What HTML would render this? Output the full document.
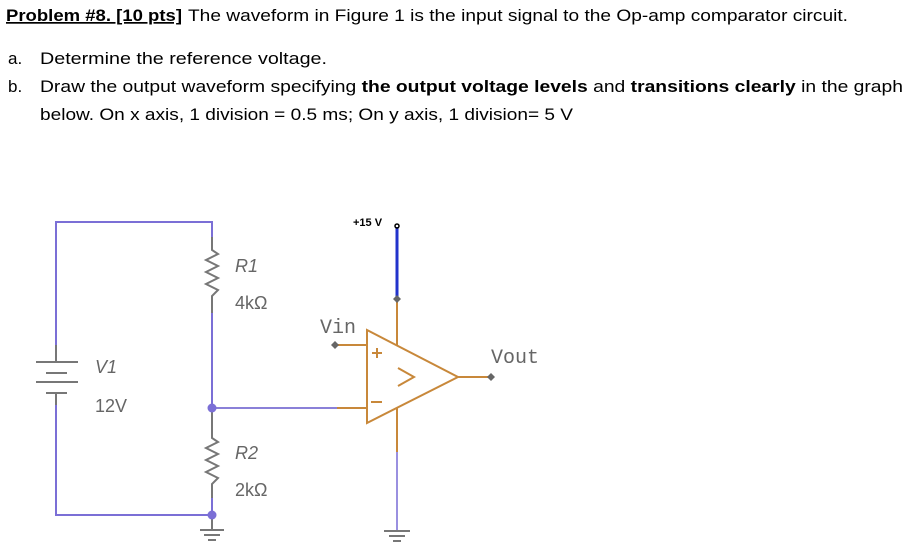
<!DOCTYPE html>
<html><head><meta charset="utf-8"><style>
html,body{margin:0;padding:0;background:#fff;}
svg{display:block;}
text{font-family:"Liberation Sans",sans-serif;}
</style></head><body>
<svg width="906" height="548" viewBox="0 0 906 548" xmlns="http://www.w3.org/2000/svg">
<g font-size="17" fill="#000">
<text x="6" y="21" textLength="176" lengthAdjust="spacingAndGlyphs" font-weight="bold" text-decoration="underline">Problem #8. [10 pts]</text>
<text x="188" y="21" textLength="660" lengthAdjust="spacingAndGlyphs">The waveform in Figure 1 is the input signal to the Op-amp comparator circuit.</text>
<text x="8" y="64">a.</text>
<text x="40" y="64" textLength="287" lengthAdjust="spacingAndGlyphs">Determine the reference voltage.</text>
<text x="8" y="92">b.</text>
<text x="40" y="92" textLength="863" lengthAdjust="spacingAndGlyphs">Draw the output waveform specifying <tspan font-weight="bold">the output voltage levels</tspan> and <tspan font-weight="bold">transitions clearly</tspan> in the graph</text>
<text x="40" y="120" textLength="533" lengthAdjust="spacingAndGlyphs">below. On x axis, 1 division = 0.5 ms; On y axis, 1 division= 5 V</text>
</g>
<g fill="none" stroke-width="2">
<polyline points="56,345 56,222 212,222 212,237" stroke="#7b6fd6"/>
<polyline points="56,405 56,515 212,515" stroke="#7b6fd6"/>
<line x1="56" y1="345" x2="56" y2="362" stroke="#777"/>
<line x1="56" y1="393" x2="56" y2="405" stroke="#777"/>
<line x1="36" y1="362" x2="78" y2="362" stroke="#777"/>
<line x1="46" y1="373" x2="67" y2="373" stroke="#777"/>
<line x1="36" y1="382" x2="78" y2="382" stroke="#777"/>
<line x1="46" y1="393" x2="67" y2="393" stroke="#777"/>
<polyline points="212,237 212,250 218,254 206,260 218,266 206,272 218,278 206,284 218,290 212,296 212,313" stroke="#777"/>
<line x1="212" y1="313" x2="212" y2="408" stroke="#7b6fd6"/>
<line x1="212" y1="408" x2="212" y2="425" stroke="#777"/>
<polyline points="212,425 212,438 218,442 206,448 218,454 206,460 218,466 206,472 218,478 212,484 212,498" stroke="#777"/>
<line x1="212" y1="498" x2="212" y2="515" stroke="#7b6fd6"/>
<line x1="212" y1="515" x2="212" y2="529" stroke="#777"/>
<line x1="200" y1="530" x2="224" y2="530" stroke="#777"/>
<line x1="204" y1="535" x2="220" y2="535" stroke="#777"/>
<line x1="208" y1="540" x2="216" y2="540" stroke="#777"/>
<line x1="212" y1="408" x2="337" y2="408" stroke="#8a80d8"/>
<line x1="337" y1="408" x2="367" y2="408" stroke="#c8883a"/>
<polygon points="367,330 367,423 458,377" stroke="#c8883a"/>
<line x1="337" y1="345" x2="367" y2="345" stroke="#c8883a"/>
<line x1="458" y1="377" x2="491" y2="377" stroke="#c8883a"/>
<line x1="397" y1="227" x2="397" y2="299" stroke="#2233cc" stroke-width="3"/>
<line x1="397" y1="299" x2="397" y2="345" stroke="#c8883a"/>
<line x1="397" y1="408" x2="397" y2="452" stroke="#c8883a"/>
<line x1="397" y1="452" x2="397" y2="530" stroke="#9a90e0"/>
<line x1="384" y1="531" x2="410" y2="531" stroke="#777"/>
<line x1="389" y1="536" x2="405" y2="536" stroke="#777"/>
<line x1="393" y1="541" x2="401" y2="541" stroke="#777"/>
<line x1="372" y1="353" x2="382" y2="353" stroke="#c8883a"/>
<line x1="377" y1="348" x2="377" y2="358" stroke="#c8883a"/>
<line x1="371" y1="402" x2="382" y2="402" stroke="#c8883a"/>
<polyline points="398,368 414,377 398,386" stroke="#c8883a"/>
</g>
<g fill="#666">
<circle cx="212" cy="408" r="4.5" fill="#7b6fd6"/>
<circle cx="212" cy="515" r="4.5" fill="#7b6fd6"/>
<polygon points="335,341 339,345 335,349 331,345"/>
<polygon points="491,373 495,377 491,381 487,377"/>
<polygon points="397,295 401,299 397,303 393,299"/>
</g>
<circle cx="397" cy="226" r="2" fill="none" stroke="#000" stroke-width="1.5"/>
<g fill="#666" font-size="18">
<text x="235" y="272" font-style="italic">R1</text>
<text x="235" y="309">4kΩ</text>
<text x="95" y="373" font-style="italic">V1</text>
<text x="95" y="412">12V</text>
<text x="235" y="459" font-style="italic">R2</text>
<text x="235" y="496">2kΩ</text>
<text x="320" y="333" font-size="20" style="font-family:'Liberation Mono',monospace">Vin</text>
<text x="491" y="363" font-size="20" style="font-family:'Liberation Mono',monospace">Vout</text>
</g>
<text x="353" y="226" font-size="11" font-weight="bold" fill="#000">+15 V</text>
</svg>
</body></html>
